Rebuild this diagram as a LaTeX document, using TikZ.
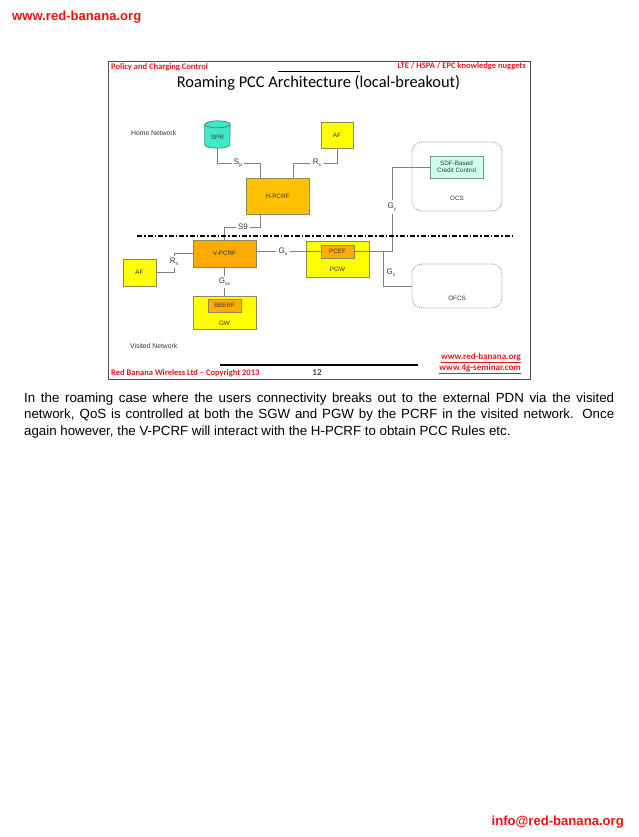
\documentclass[tikz,border=0pt]{standalone}
\usepackage{fontspec}
\setmainfont{Liberation Sans}
\newfontfamily\carl{Carlito}
\definecolor{rbred}{HTML}{F01010}
\definecolor{slred}{HTML}{E8141C}
\definecolor{conng}{HTML}{7F7F7F}
\definecolor{boxb}{HTML}{8A8A5C}
\definecolor{hpc}{HTML}{FFC000}
\definecolor{vpc}{HTML}{FBAA00}
\definecolor{inner}{HTML}{FFAE00}
\definecolor{yel}{HTML}{FFFF00}
\definecolor{sprc}{HTML}{42E8C6}
\definecolor{sprb}{HTML}{3A8C7C}
\definecolor{sdfc}{HTML}{CCFFEE}
\definecolor{sdfb}{HTML}{6E9E9E}
\definecolor{txt}{HTML}{333333}
\newcommand{\sbs}[1]{\raisebox{-1.6pt}{\fontsize{5}{5}\selectfont #1}}
\tikzset{
  box/.style={draw=boxb, line width=0.7pt, inner sep=0pt, text=txt, font=\fontsize{6.3}{7.4}\selectfont, align=center},
  conn/.style={draw=conng, line width=0.8pt},
  lab/.style={inner sep=2.2pt, text=txt, font=\fontsize{8}{9}\selectfont},
  plain/.style={inner sep=0pt, text=txt, font=\fontsize{6.3}{7.4}\selectfont},
  netlab/.style={inner sep=0pt, text=txt, font=\fontsize{6.8}{8}\selectfont, anchor=west},
  cloud/.style={draw=conng!80, line width=0.8pt, dash pattern=on 1pt off 1pt, rounded corners=10pt, inner sep=0pt},
  para/.style={inner sep=0pt, font=\fontsize{13.3}{16}\selectfont, anchor=base west},
  hdr/.style={inner sep=0pt, text=slred, font=\carl\bfseries\fontsize{8.5}{10}\selectfont},
}
\begin{document}
\begin{tikzpicture}[x=1pt,y=-1pt]
\useasboundingbox (0,0) rectangle (638,837);
\fill[white] (0,0) rectangle (638,837);
% page texts
\node[inner sep=0pt, anchor=west, text=rbred, font=\bfseries\fontsize{13.1}{15}\selectfont] (www) at (12,17) {www.red-banana.org};
\node[inner sep=0pt, anchor=east, text=rbred, font=\bfseries\fontsize{13.1}{15}\selectfont] (info) at (624,822) {info@red-banana.org};
% slide frame
\draw[draw=black!70, line width=0.9pt] (108,61) rectangle (530,379);
\node[hdr, anchor=west] (hl) at (111,67) {Policy and Charging Control};
\node[hdr, anchor=east] (hr) at (526,66) {LTE / HSPA / EPC knowledge nuggets};
\draw[black, line width=0.9pt] (278,71) -- (360,71);
\node[inner sep=0pt, font=\carl\fontsize{16.4}{19}\selectfont] (title) at (318.5,83) {Roaming PCC Architecture (local-breakout)};
\node[netlab] (home) at (131,133) {Home Network};
\node[netlab] (visited) at (130,346) {Visited Network};
% SPR cylinder
\node[inner sep=0pt, minimum width=25, minimum height=27] (spr) at (217.5,134.5) {};
\path[draw=sprb, fill=sprc, line width=0.7pt] ([yshift=-3.5pt]spr.north west) -- ([yshift=3.5pt]spr.south west) arc[start angle=180, end angle=360, x radius=12.5pt, y radius=3.5pt] -- ([yshift=-3.5pt]spr.north east) arc[start angle=0, end angle=180, x radius=12.5pt, y radius=3.5pt] -- cycle;
\draw[draw=sprb, line width=0.7pt] ([yshift=-3.5pt]spr.north west) arc[start angle=180, end angle=360, x radius=12.5pt, y radius=3.5pt];
\node[plain] (sprt) at (217.5,137) {SPR};
% boxes
\node[box, fill=yel, minimum width=32, minimum height=26] (af1) at (337,135) {AF};
\node[box, fill=hpc, minimum width=63, minimum height=36] (hpcrf) at (277.5,196) {H-PCRF};
\node[cloud, minimum width=90, minimum height=69] (ocs) at (457,176.5) {};
\node[box, draw=sdfb, fill=sdfc, minimum width=53, minimum height=22] (sdf) at (456.5,167) {SDF-Based\\Credit Control};
\node[plain] (ocst) at (457,198) {OCS};
\node[cloud, minimum width=90, minimum height=44] (ofcs) at (457,286) {};
\node[plain] (ofcst) at (457,298) {OFCS};
\node[box, fill=vpc, minimum width=63, minimum height=27] (vpcrf) at (224.5,253.5) {V-PCRF};
\node[box, fill=yel, minimum width=63, minimum height=36] (pgw) at (337.5,259) {};
\node[box, fill=inner, minimum width=33, minimum height=13] (pcef) at (337.5,251.5) {PCEF};
\node[plain] (pgwt) at (337.5,269) {PGW};
\node[box, fill=yel, minimum width=33, minimum height=27] (af2) at (139.5,272.5) {AF};
\node[box, fill=yel, minimum width=63, minimum height=33] (gw) at (224.5,312.5) {};
\node[box, fill=inner, minimum width=33, minimum height=13] (bberf) at (224.5,305.5) {BBERF};
\node[plain] (gwt) at (224.5,323) {GW};
% interface labels
\node[lab] (sp) at (238,163) {S\sbs{p}};
\node[lab] (rx1) at (317,163) {R\sbs{x}};
\node[lab] (gy) at (392,207) {G\sbs{y}};
\node[lab] (s9) at (243,227) {S9};
\node[lab] (gx) at (283,251.5) {G\sbs{x}};
\node[lab] (rx2) at (174,262) {R\sbs{x}};
\node[lab] (gxx) at (224.5,282) {G\sbs{xx}};
\node[lab] (gz) at (391,273) {G\sbs{z}};
% connectors
\draw[conn] (spr.south) |- (sp.west);
\draw[conn] (sp.east) -| ([xshift=15pt]hpcrf.north west);
\draw[conn] ([xshift=48pt]hpcrf.north west) |- (rx1.west);
\draw[conn] (rx1.east) -| (af1.south);
\draw[conn] (sdf.west) -| (gy.north);
\draw[conn] (gy.south) |- (pcef.east);
\coordinate (gzj) at (383,251.5);
\draw[conn] (gzj) |- (ofcs.west);
\draw[conn] ([xshift=15pt]hpcrf.south west) |- (s9.east);
\draw[conn] (s9.west) -| (vpcrf.north);
\draw[conn] (vpcrf.east |- gx.west) -- (gx.west);
\draw[conn] (gx.east) -- (pcef.west);
\draw[conn] (vpcrf.west) -| (rx2.north);
\draw[conn] (rx2.south) |- (af2.east);
\draw[conn] (vpcrf.south) -- (gxx.north);
\draw[conn] (gxx.south) -- (gw.north);
% roaming boundary
\draw[black, line width=1.2pt, dash pattern=on 5pt off 2pt on 1.5pt off 2pt] (137,236) -- (512,236);
% footer
\draw[black, line width=1.1pt] (220,365) -- (418,365);
\node[inner sep=0pt, font=\carl\fontsize{9}{10}\selectfont] (pg) at (317,373) {12};
\node[hdr, anchor=west] (copy) at (111,373) {Red Banana Wireless Ltd – Copyright 2013};
\node[hdr, anchor=east, font=\carl\bfseries\fontsize{9}{10}\selectfont] (l1) at (521,358) {\underline{www.red-banana.org}};
\node[hdr, anchor=east, font=\carl\bfseries\fontsize{9}{10}\selectfont] (l2) at (521,369) {\underline{www.4g-seminar.com}};
% paragraph
\node[para] (p1) at (24,402) {\makebox[590pt][s]{In the roaming case where the users connectivity breaks out to the external PDN via the visited}};
\node[para] (p2) at (24,418.5) {\makebox[590pt][s]{network, QoS is controlled at both the SGW and PGW by the PCRF in the visited network. Once}};
\node[para] (p3) at (24,435) {again however, the V-PCRF will interact with the H-PCRF to obtain PCC Rules etc.};
\end{tikzpicture}
\end{document}
